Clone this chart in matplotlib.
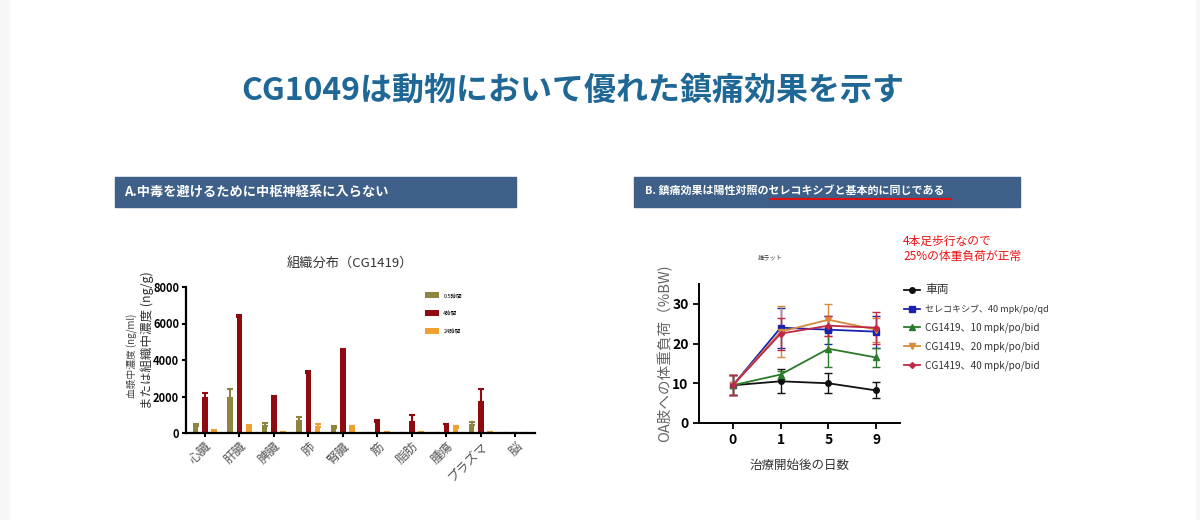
import numpy as np
import matplotlib
matplotlib.use("Agg")
import matplotlib.pyplot as plt
from matplotlib.patches import Rectangle
from matplotlib.lines import Line2D

plt.rcParams['font.family'] = ['Noto Sans CJK JP', 'DejaVu Sans']

# --- data: tissue distribution (left)
tissues = ['心臓', '肝臓', '脾臓', '肺', '腎臓', '筋', '脂肪', '腫瘍', 'プラズマ', '脳']
conc_05h = [400, 1900, 400, 650, 300, 20, 20, 20, 450, 0]
err_05h = [120, 500, 150, 200, 100, 0, 0, 0, 150, 0]
conc_4h = [1900, 6350, 1950, 3300, 4550, 600, 600, 480, 1700, 0]
err_4h = [300, 100, 100, 100, 80, 100, 400, 40, 700, 0]
conc_24h = [100, 350, 50, 350, 300, 50, 30, 300, 30, 0]
err_24h = [50, 100, 0, 150, 80, 0, 0, 100, 0, 0]
dist_labels = ['0.5時間', '4時間', '24時間']

# --- data: weight bearing (right)
days = ['0', '1', '5', '9']
vehicle = [9.5, 10.5, 10.0, 8.2]
vehicle_err = [2.5, 3.0, 2.5, 2.0]
celecoxib = [9.5, 24.0, 23.5, 23.0]
celecoxib_err = [2.5, 5.0, 3.5, 4.0]
cg10 = [9.5, 12.2, 18.7, 16.5]
cg10_err = [2.5, 1.0, 4.5, 2.5]
cg20 = [9.5, 23.0, 26.0, 23.5]
cg20_err = [2.5, 6.5, 4.0, 3.0]
cg40 = [9.5, 22.5, 24.5, 24.0]
cg40_err = [2.5, 4.0, 2.5, 4.0]
wb_labels = ['車両', 'セレコキシブ、40 mpk/po/qd', 'CG1419、10 mpk/po/bid',
             'CG1419、20 mpk/po/bid', 'CG1419、40 mpk/po/bid']

W, H = 1200, 520
fig = plt.figure(figsize=(12, 5.2), dpi=100)
fig.patch.set_facecolor('white')


def rect(l, t, r, b):
    return [l / W, 1 - b / H, (r - l) / W, (b - t) / H]


def fx(x):
    return x / W


def fy(y):
    return 1 - y / H


# side strips
fig.patches.append(Rectangle((0, 0), fx(9), 1, transform=fig.transFigure,
                             color='#f6f7f9', zorder=0))
fig.patches.append(Rectangle((fx(1196), 0), fx(4), 1, transform=fig.transFigure,
                             color='#f6f7f9', zorder=0))

fig.text(fx(573), fy(91), 'CG1049は動物において優れた鎮痛効果を示す', ha='center', va='center',
         fontsize=23, color='#1f6896', fontweight='bold')

# header boxes
hdr = '#3d5f88'
fig.patches.append(Rectangle((fx(115), fy(207)), fx(401), 30 / H, transform=fig.transFigure,
                             color=hdr, zorder=1))
fig.text(fx(124), fy(192), 'A.中毒を避けるために中枢神経系に入らない', color='white',
         fontsize=9.5, fontweight='bold', va='center')
fig.patches.append(Rectangle((fx(634), fy(207)), fx(386), 30 / H, transform=fig.transFigure,
                             color=hdr, zorder=1))
fig.text(fx(645), fy(190), 'B. 鎮痛効果は陽性対照のセレコキシブと基本的に同じである', color='white',
         fontsize=7.9, fontweight='bold', va='center')
fig.lines.append(Line2D([fx(770), fx(951)], [fy(199), fy(199)], transform=fig.transFigure,
                        color='#e01010', lw=1.5, zorder=3))

# --- left: bar chart
ax1 = fig.add_axes(rect(186, 287, 535, 433))
x = np.arange(len(tissues))
bw = 0.16
off = 0.27
cols = ['#8c843f', '#8e0c10', '#f0a030']
for vals, errs, dx, c, lab in zip([conc_05h, conc_4h, conc_24h], [err_05h, err_4h, err_24h],
                                  [-off, 0, off], cols, dist_labels):
    ax1.bar(x + dx, vals, bw, color=c, label=lab, zorder=2)
    ax1.errorbar(x + dx, vals, yerr=[np.zeros(len(errs)), errs], fmt='none', ecolor=c,
                 elinewidth=1.5, capsize=2, capthick=1.5, zorder=2)
ax1.set_xlim(-0.55, 9.57)
ax1.set_ylim(0, 8000)
ax1.set_yticks([0, 2000, 4000, 6000, 8000])
ax1.set_xticks(x)
ax1.set_xticklabels(tissues, rotation=45, ha='right', rotation_mode='anchor',
                    fontsize=9, color='#555555')
for lab in ax1.get_yticklabels():
    lab.set_fontweight('bold')
    lab.set_fontsize(8)
for s in ['top', 'right']:
    ax1.spines[s].set_visible(False)
for s in ['left', 'bottom']:
    ax1.spines[s].set_linewidth(1.6)
ax1.tick_params(width=1.5, length=3, pad=2)
ax1.legend(loc='upper left', bbox_to_anchor=((420 - 186) / 349, 1.0), frameon=False,
           fontsize=4, handlelength=2.5, handleheight=1.2, labelspacing=2.2)
fig.text(fx(350), fy(264), '組織分布（CG1419）', ha='center', va='center', fontsize=9.5,
         color='#333333')
fig.text(fx(132), fy(356), '血漿中濃度 (ng/ml)', rotation=90, ha='center', va='center',
         fontsize=7, color='#444444')
fig.text(fx(147), fy(340), 'または組織中濃度 (ng/g)', rotation=90, ha='center', va='center',
         fontsize=9, color='#333333')

# --- right: line chart
ax2 = fig.add_axes(rect(699, 284, 900, 423))
xp = np.arange(len(days))
series = [
    (vehicle, vehicle_err, '#111111', 'o', 4),
    (celecoxib, celecoxib_err, '#1a22b0', 's', 5),
    (cg10, cg10_err, '#2a7a2a', '^', 4),
    (cg20, cg20_err, '#d88a3c', 'v', 4),
    (cg40, cg40_err, '#c02848', 'D', 3),
]
handles = []
for (vals, errs, c, m, ms), lab in zip(series, wb_labels):
    h = ax2.errorbar(xp, vals, yerr=errs, color=c, marker=m, ms=ms, lw=1.3, elinewidth=1,
                     capsize=3, capthick=1, label=lab)
    handles.append(h)
ax2.set_xlim(-0.71, 3.5)
ax2.set_ylim(0, 35)
ax2.set_yticks([0, 10, 20, 30])
ax2.set_xticks(xp)
ax2.set_xticklabels(days)
for lab in ax2.get_xticklabels() + ax2.get_yticklabels():
    lab.set_fontweight('bold')
    lab.set_fontsize(10)
for s in ['top', 'right']:
    ax2.spines[s].set_visible(False)
for s in ['left', 'bottom']:
    ax2.spines[s].set_linewidth(1.4)
ax2.tick_params(width=1.3, length=4)
ax2.set_ylabel('OA肢への体重負荷（%BW)', fontsize=10.5, color='#666666', labelpad=0)
ax2.set_xlabel('治療開始後の日数', fontsize=9, color='#333333', labelpad=8)
fig.text(fx(770), fy(257), '雄ラット', ha='center', va='center', fontsize=4.5, color='#333333')
leg_handles = [Line2D([], [], color=c, marker=m, ms=ms, lw=1.3) for (_, _, c, m, ms) in series]
leg = fig.legend(leg_handles, wb_labels, loc='upper left', bbox_to_anchor=(fx(895), fy(274)),
                 frameon=False, fontsize=7.2, handlelength=1.6, labelspacing=0.85,
                 handletextpad=0.5)
for i, t in enumerate(leg.get_texts()):
    t.set_color('#333333')
    if i == 0:
        t.set_fontsize(8.5)
    elif i == 1:
        t.set_fontsize(6.5)

fig.text(fx(903), fy(241), '4本足歩行なので', color='#ee1111', fontsize=8.5, va='center')
fig.text(fx(903), fy(256), '25%の体重負荷が正常', color='#ee1111', fontsize=8.5, va='center')

fig.savefig('out.png', dpi=100)
